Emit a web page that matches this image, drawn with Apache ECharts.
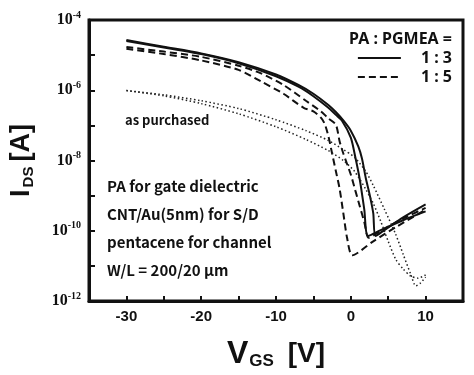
<!DOCTYPE html>
<html>
<head>
<meta charset="utf-8">
<title>IDS-VGS</title>
<script src="https://cdn.jsdelivr.net/npm/echarts@6/dist/echarts.min.js"></script>
<style>
  html, body { margin: 0; padding: 0; background: #fff; }
  #main { width: 474px; height: 375px; }
</style>
</head>
<body>
<div id="main"></div>
<script type="text/javascript">
// gate voltage [V] and log10(I_DS [A])
// PA:PGMEA = 1:3 (solid), two sweeps
var vgs13a = [-30, -25, -20, -15, -10, -7, -5, -3, -2, -1, 0, 1, 1.5, 2, 2.5, 3, 3.3, 4.5, 7, 10];
var log13a = [-4.57, -4.76, -4.95, -5.2, -5.55, -5.85, -6.1, -6.42, -6.62, -6.86, -7.15, -7.6, -7.95, -8.5, -8.95, -9.5, -10.15, -9.98, -9.62, -9.25];
var vgs13b = [-30, -25, -20, -15, -10, -7, -5, -3, -2, -1.2, 0, 0.6, 1.2, 1.8, 2.3, 4, 7, 10];
var log13b = [-4.6, -4.78, -4.97, -5.23, -5.6, -5.9, -6.17, -6.5, -6.7, -6.86, -7.35, -7.9, -8.54, -9.39, -10.15, -9.98, -9.7, -9.45];
// PA:PGMEA = 1:5 (dashed), two sweeps
var vgs15a = [-30, -25, -20, -15, -12, -9, -6, -4, -3, -2, -1.5, -1, 0, 0.6, 1.2, 1.8, 2.4, 4, 7, 10];
var log15a = [-4.77, -4.9, -5.05, -5.3, -5.52, -5.85, -6.3, -6.6, -6.8, -6.98, -7.45, -7.8, -8.4, -8.85, -9.3, -9.75, -10.2, -10.0, -9.65, -9.35];
var vgs15b = [-30, -25, -20, -15, -12, -9, -6.3, -5, -4, -3.5, -3, -2.5, -2, -1.5, -1, -0.5, 0.2, 3, 6, 10];
var log15b = [-4.82, -4.97, -5.15, -5.42, -5.75, -6.1, -6.5, -6.6, -6.78, -6.95, -7.3, -7.8, -8.3, -8.8, -9.5, -10.2, -10.7, -10.3, -9.9, -9.4];
// as purchased (dotted), two sweeps
var vgsApA = [-30, -25, -20, -15, -10, -6, -3, -1, 0.5, 2, 3, 4.5, 6, 7, 8, 8.7, 9.3, 10];
var logApA = [-6.01, -6.13, -6.3, -6.52, -6.84, -7.15, -7.43, -7.69, -7.91, -8.31, -8.71, -9.39, -10.1, -10.67, -11.23, -11.57, -11.49, -11.32];
var vgsApB = [-30, -25, -20, -15, -10, -6, -3, -1, 0.5, 2, 3, 4, 5, 6, 7, 8, 9, 10];
var logApB = [-6.01, -6.16, -6.38, -6.67, -7.04, -7.4, -7.72, -8.0, -8.31, -8.82, -9.22, -9.73, -10.3, -10.81, -11.09, -11.29, -11.35, -11.26];

var notes = ['PA for gate dielectric', 'CNT/Au(5nm) for S/D', 'pentacene for channel', 'W/L = 200/20 \u03bcm'];

function pairs(xs, ys) {
    var out = [];
    for (var i = 0; i < xs.length; i++) out.push([xs[i], ys[i]]);
    return out;
}

var solid = { color: '#111', width: 2, type: 'solid' };
var dashed = { color: '#111', width: 2, type: [7, 4] };
var dotted = { color: '#222', width: 1.5, type: [1.5, 2.5] };

function curve(name, xs, ys, style) {
    return {
        name: name, type: 'line', data: pairs(xs, ys),
        symbol: 'none', smooth: 0.25, lineStyle: style, itemStyle: { color: '#111' },
        silent: true
    };
}

var noteFont = { fontFamily: 'Noto Sans CJK KR', fontWeight: 'bold', fontSize: 15, fill: '#111' };
var graphics = [{
    type: 'text', left: 125, top: 114,
    style: { text: 'as purchased', fontFamily: 'Noto Sans CJK KR', fontWeight: 'bold', fontSize: 13, fill: '#111' }
}];
for (var i = 0; i < notes.length; i++) {
    graphics.push({
        type: 'text', left: 107, top: 179 + i * 28,
        style: Object.assign({ text: notes[i] }, noteFont)
    });
}

var myChart = echarts.init(document.getElementById('main'));
var option = {
    animation: false,
    grid: { left: 80, right: 11, top: 20, bottom: 73, show: true, borderColor: '#111', borderWidth: 3 },
    title: {
        text: 'PA : PGMEA =', right: 22, top: 31, padding: 0,
        textStyle: { fontFamily: 'Noto Sans', fontWeight: 'bold', fontSize: 16, color: '#111' }
    },
    legend: {
        data: ['1 : 3', '1 : 5'], orient: 'vertical', right: 22, top: 50, padding: 0,
        itemWidth: 43, itemHeight: 10, itemGap: 3, selectedMode: false,
        itemStyle: { opacity: 0 },
        textStyle: { fontFamily: 'Noto Sans', fontWeight: 'bold', fontSize: 16, lineHeight: 16, color: '#111', padding: [0, 0, 0, 15] }
    },
    xAxis: {
        type: 'value', min: -35, max: 15, interval: 5,
        name: '{v|V}{s|GS}{b|[V]}', nameLocation: 'middle', nameGap: 38,
        nameTextStyle: {
            rich: {
                v: { fontFamily: 'Liberation Sans', fontWeight: 'bold', fontSize: 32, color: '#111', lineHeight: 30 },
                b: { fontFamily: 'Liberation Sans', fontWeight: 'bold', fontSize: 28, color: '#111', lineHeight: 30 },
                s: { fontFamily: 'Liberation Sans', fontWeight: 'bold', fontSize: 17, color: '#111', lineHeight: 30, padding: [14, 14, 0, 1] }
            }
        },
        axisLine: { onZero: false, lineStyle: { color: '#111', width: 3 } },
        axisTick: { inside: true, length: 5, lineStyle: { color: '#111', width: 2 } },
        splitLine: { show: false },
        axisLabel: {
            fontFamily: 'Liberation Sans', fontWeight: 'bold', fontSize: 15, color: '#111', margin: 8,
            formatter: function (v) { return (v % 10 === 0 && v >= -30 && v <= 10) ? String(v) : ''; }
        }
    },
    yAxis: {
        type: 'value', min: -12, max: -4, interval: 1,
        name: '{b|I}{s|DS}{b|[A]}', nameLocation: 'middle', nameGap: 52, nameRotate: 90,
        nameTextStyle: {
            rich: {
                b: { fontFamily: 'Liberation Sans', fontWeight: 'bold', fontSize: 27, color: '#111', lineHeight: 30, padding: [0, 2, 0, 2] },
                s: { fontFamily: 'Liberation Sans', fontWeight: 'bold', fontSize: 15, color: '#111', lineHeight: 30, padding: [13, 3, 0, 0] }
            }
        },
        axisLine: { onZero: false, lineStyle: { color: '#111', width: 3 } },
        axisTick: { inside: true, length: 6, lineStyle: { color: '#111', width: 2 } },
        splitLine: { show: false },
        axisLabel: {
            margin: 8,
            formatter: function (v) { return (v % 2 === 0) ? '{b|10}{sup|' + v + '}' : ''; },
            rich: {
                b: { fontFamily: 'Liberation Serif', fontWeight: 'bold', fontSize: 16, color: '#111' },
                sup: { fontFamily: 'Liberation Serif', fontWeight: 'bold', fontSize: 10, color: '#111', padding: [0, 0, 10, 0] }
            }
        }
    },
    graphic: graphics,
    series: [
        curve('1 : 3', vgs13a, log13a, solid),
        curve('1 : 3', vgs13b, log13b, solid),
        curve('1 : 5', vgs15a, log15a, dashed),
        curve('1 : 5', vgs15b, log15b, dashed),
        curve('as purchased', vgsApA, logApA, dotted),
        curve('as purchased', vgsApB, logApB, dotted)
    ]
};
myChart.setOption(option);
</script>
</body>
</html>
